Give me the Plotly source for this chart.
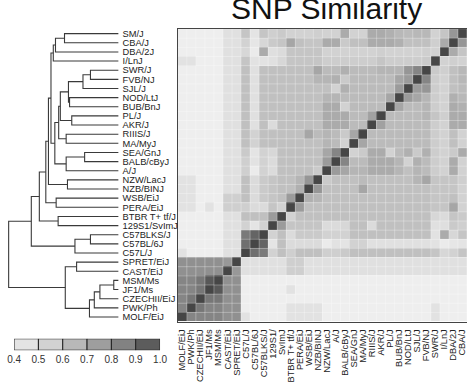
import plotly.graph_objects as go

STRAINS = ["SM/J", "CBA/J", "DBA/2J", "I/LnJ", "SWR/J", "FVB/NJ", "SJL/J", "NOD/LtJ",
           "BUB/BnJ", "PL/J", "AKR/J", "RIIIS/J", "MA/MyJ", "SEA/GnJ", "BALB/cByJ", "A/J",
           "NZW/LacJ", "NZB/BINJ", "WSB/EiJ", "PERA/EiJ", "BTBR T+ tf/J", "129S1/SvImJ",
           "C57BLKS/J", "C57BL/6J", "C57L/J", "SPRET/EiJ", "CAST/EiJ", "MSM/Ms", "JF1/Ms",
           "CZECHII/EiJ", "PWK/Ph", "MOLF/EiJ"]

# column labels as printed under the heat map (the 129S1 label is split over two slots)
XLABELS = ["MOLF/EiJ", "PWK/Ph", "CZECHII/EiJ", "JF1/Ms", "MSM/Ms", "CAST/EiJ", "SPRET/EiJ",
           "C57L/J", "C57BL/6J", "C57BLKS/J", "129S1/", "SvImJ", "BTBR T+ tf/J", "PERA/EiJ",
           "WSB/EiJ", "NZB/BINJ", "NZW/LacJ", "A/J", "BALB/cByJ", "SEA/GnJ", "MA/MyJ",
           "RIIIS/J", "AKR/J", "PL/J", "BUB/BnJ", "NOD/LtJ", "SJL/J", "FVB/NJ", "SWR/J",
           "I/LnJ", "DBA/2J", "CBA/J", "SM/J"]

# similarity of each strain to the strains listed before it (lower triangle)
SIM_LOWER = [
    [],
    [0.78],
    [0.60, 0.70],
    [0.55, 0.56, 0.55],
    [0.65, 0.62, 0.56, 0.58],
    [0.65, 0.62, 0.55, 0.57, 0.84],
    [0.64, 0.62, 0.55, 0.57, 0.78, 0.76],
    [0.65, 0.68, 0.55, 0.57, 0.66, 0.72, 0.76],
    [0.68, 0.70, 0.55, 0.57, 0.66, 0.64, 0.64, 0.72],
    [0.70, 0.70, 0.56, 0.60, 0.66, 0.64, 0.64, 0.64, 0.64],
    [0.70, 0.70, 0.55, 0.57, 0.64, 0.64, 0.64, 0.64, 0.64, 0.74],
    [0.55, 0.62, 0.55, 0.57, 0.64, 0.64, 0.64, 0.64, 0.64, 0.64, 0.64],
    [0.55, 0.62, 0.55, 0.57, 0.64, 0.64, 0.64, 0.64, 0.64, 0.64, 0.64, 0.72],
    [0.70, 0.58, 0.55, 0.57, 0.68, 0.58, 0.68, 0.64, 0.55, 0.70, 0.70, 0.58, 0.55],
    [0.55, 0.70, 0.55, 0.57, 0.64, 0.68, 0.55, 0.66, 0.70, 0.70, 0.70, 0.64, 0.64, 0.84],
    [0.55, 0.70, 0.55, 0.57, 0.64, 0.66, 0.62, 0.66, 0.70, 0.70, 0.70, 0.66, 0.66, 0.72, 0.76],
    [0.56, 0.60, 0.60, 0.60, 0.72, 0.66, 0.62, 0.62, 0.62, 0.62, 0.62, 0.64, 0.62, 0.62, 0.62, 0.58],
    [0.55, 0.60, 0.60, 0.60, 0.62, 0.62, 0.62, 0.62, 0.62, 0.62, 0.62, 0.72, 0.62, 0.62, 0.62, 0.62,
     0.78],
    [0.55, 0.62, 0.60, 0.60, 0.62, 0.62, 0.62, 0.62, 0.62, 0.62, 0.62, 0.62, 0.62, 0.62, 0.62, 0.62,
     0.66, 0.68],
    [0.55, 0.72, 0.60, 0.60, 0.62, 0.62, 0.62, 0.62, 0.62, 0.62, 0.62, 0.62, 0.62, 0.62, 0.62, 0.62,
     0.62, 0.62, 0.76],
    [0.58, 0.60, 0.50, 0.52, 0.62, 0.62, 0.62, 0.62, 0.62, 0.62, 0.62, 0.62, 0.62, 0.62, 0.62, 0.62,
     0.62, 0.62, 0.62, 0.55],
    [0.56, 0.58, 0.48, 0.47, 0.62, 0.62, 0.62, 0.62, 0.62, 0.62, 0.50, 0.62, 0.62, 0.52, 0.50, 0.50,
     0.60, 0.60, 0.60, 0.60, 0.76],
    [0.60, 0.52, 0.70, 0.46, 0.62, 0.62, 0.62, 0.62, 0.62, 0.62, 0.62, 0.62, 0.62, 0.55, 0.55, 0.55,
     0.58, 0.58, 0.58, 0.50, 0.62, 0.55],
    [0.45, 0.44, 0.42, 0.46, 0.47, 0.47, 0.47, 0.47, 0.47, 0.47, 0.47, 0.55, 0.55, 0.45, 0.46, 0.42,
     0.50, 0.50, 0.50, 0.50, 0.62, 0.45, 0.93],
    [0.60, 0.55, 0.52, 0.60, 0.62, 0.62, 0.62, 0.62, 0.62, 0.62, 0.62, 0.62, 0.62, 0.58, 0.56, 0.56,
     0.62, 0.62, 0.62, 0.56, 0.62, 0.55, 0.87, 0.90],
    [0.47, 0.47, 0.47, 0.47, 0.47, 0.47, 0.47, 0.47, 0.47, 0.47, 0.47, 0.47, 0.47, 0.47, 0.47, 0.47,
     0.47, 0.47, 0.56, 0.56, 0.47, 0.47, 0.47, 0.47, 0.47],
    [0.47, 0.47, 0.47, 0.47, 0.47, 0.47, 0.47, 0.47, 0.47, 0.47, 0.47, 0.47, 0.47, 0.47, 0.47, 0.47,
     0.47, 0.47, 0.56, 0.56, 0.47, 0.47, 0.47, 0.47, 0.47, 0.77],
    [0.41, 0.41, 0.41, 0.41, 0.41, 0.41, 0.41, 0.41, 0.41, 0.41, 0.41, 0.41, 0.41, 0.41, 0.41, 0.41,
     0.41, 0.41, 0.41, 0.41, 0.41, 0.41, 0.41, 0.41, 0.41, 0.80, 0.80],
    [0.41, 0.41, 0.41, 0.41, 0.41, 0.41, 0.41, 0.41, 0.41, 0.41, 0.41, 0.41, 0.41, 0.41, 0.41, 0.41,
     0.41, 0.41, 0.41, 0.46, 0.41, 0.41, 0.41, 0.41, 0.41, 0.80, 0.80, 0.96],
    [0.41, 0.41, 0.41, 0.41, 0.41, 0.41, 0.41, 0.41, 0.41, 0.41, 0.41, 0.41, 0.41, 0.41, 0.41, 0.41,
     0.41, 0.41, 0.41, 0.41, 0.41, 0.41, 0.41, 0.41, 0.41, 0.80, 0.80, 0.88, 0.88],
    [0.41, 0.41, 0.41, 0.46, 0.41, 0.41, 0.41, 0.41, 0.41, 0.41, 0.41, 0.41, 0.41, 0.41, 0.41, 0.41,
     0.46, 0.46, 0.46, 0.46, 0.41, 0.41, 0.41, 0.41, 0.41, 0.80, 0.80, 0.84, 0.84, 0.88],
    [0.41, 0.41, 0.41, 0.46, 0.41, 0.41, 0.41, 0.41, 0.41, 0.41, 0.41, 0.41, 0.41, 0.41, 0.41, 0.41,
     0.46, 0.46, 0.46, 0.46, 0.41, 0.41, 0.41, 0.41, 0.46, 0.80, 0.80, 0.84, 0.84, 0.84, 0.84],
]

# hierarchical clustering: (left, right, merge height); ints refer to earlier merges
MERGES = [
    ("SM/J", "CBA/J", 0.492), (0, "DBA/2J", 0.574), (1, "I/LnJ", 0.594),
    ("SWR/J", "FVB/NJ", 0.256), (3, "SJL/J", 0.324), ("NOD/LtJ", "BUB/BnJ", 0.446),
    (4, 5, 0.456), ("PL/J", "AKR/J", 0.426), (6, 7, 0.530), ("RIIIS/J", "MA/MyJ", 0.477),
    (8, 9, 0.545), ("SEA/GnJ", "BALB/cByJ", 0.309), (11, "A/J", 0.477), (10, 12, 0.580),
    (2, 13, 0.615), ("NZW/LacJ", "NZB/BINJ", 0.465), (14, 15, 0.638),
    ("WSB/EiJ", "PERA/EiJ", 0.568), (16, 17, 0.662), ("BTBR T+ tf/J", "129S1/SvImJ", 0.550),
    (18, 19, 0.721), ("C57BLKS/J", "C57BL/6J", 0.256), (21, "C57L/J", 0.397),
    (20, 22, 0.794), ("SPRET/EiJ", "CAST/EiJ", 0.382), ("MSM/Ms", "JF1/Ms", 0.044),
    (25, "CZECHII/EiJ", 0.170), (26, "PWK/Ph", 0.221), (27, "MOLF/EiJ", 0.265),
    (24, 28, 0.485), (23, 29, 1.000),
]

LEGEND_BREAKS = [0.4, 0.5, 0.6, 0.7, 0.8, 0.9, 1.0]
LEGEND_LABELS = ["0.4", "0.5", "0.6", "0.7", "0.8", "0.9", "1.0"]

ZMIN, ZMAX = 0.4, 1.0
CS = [[0.0, "rgb(240,240,240)"], [0.0833, "rgb(228,228,228)"], [0.25, "rgb(210,210,210)"],
      [0.4167, "rgb(184,184,184)"], [0.5833, "rgb(158,158,158)"], [0.75, "rgb(130,130,130)"],
      [0.9167, "rgb(92,92,92)"], [1.0, "rgb(70,70,70)"]]

n = len(STRAINS)
S = [[1.0] * n for _ in range(n)]
for a, row in enumerate(SIM_LOWER):
    for b, v in enumerate(row):
        S[a][b] = v
        S[b][a] = v
# rows top->bottom in STRAINS order, columns in reverse order
Z = [[S[r][n - 1 - c] for c in range(n)] for r in range(n)]

# dendrogram segments
idx = {s: i for i, s in enumerate(STRAINS)}
nodes = []
def node_pos(k):
    if isinstance(k, str):
        return 0.0, float(idx[k])
    return nodes[k]
dx, dy = [], []
for a, b, h in MERGES:
    ha, ya = node_pos(a)
    hb, yb = node_pos(b)
    dx += [ha, h, h, hb, None]
    dy += [ya, ya, yb, yb, None]
    nodes.append((h, (ya + yb) / 2.0))

W, H = 474, 383
FONT = "Liberation Sans, Arial, Helvetica, sans-serif"
LABEL_SIZE = 9.3
y_dom = [(H - 328.4) / H, (H - 29.7) / H]

fig = go.Figure()
fig.add_trace(go.Heatmap(z=Z, x=list(range(n)), y=list(range(n)), colorscale=CS,
                         zmin=ZMIN, zmax=ZMAX, showscale=False,
                         hoverinfo="skip", xaxis="x", yaxis="y"))
fig.add_trace(go.Scatter(x=dx, y=dy, mode="lines", line=dict(color="#3a3a3a", width=1.1),
                         hoverinfo="skip", showlegend=False, xaxis="x2", yaxis="y2"))
centers = [(LEGEND_BREAKS[i] + LEGEND_BREAKS[i + 1]) / 2 for i in range(len(LEGEND_BREAKS) - 1)]
fig.add_trace(go.Bar(x=centers, y=[1] * len(centers), width=0.1,
                     marker=dict(color=centers, colorscale=CS, cmin=ZMIN, cmax=ZMAX,
                                 line=dict(color="#222222", width=1)),
                     cliponaxis=False, hoverinfo="skip", showlegend=False,
                     xaxis="x3", yaxis="y3"))

# faint cell separators on top of the heat map
shapes = []
for i in range(1, n):
    shapes.append(dict(type="line", xref="x", yref="y", x0=i - 0.5, x1=i - 0.5,
                       y0=-0.5, y1=n - 0.5, line=dict(color="rgba(255,255,255,0.3)", width=1),
                       layer="above"))
    shapes.append(dict(type="line", xref="x", yref="y", y0=i - 0.5, y1=i - 0.5,
                       x0=-0.5, x1=n - 0.5, line=dict(color="rgba(255,255,255,0.3)", width=1),
                       layer="above"))

fig.update_layout(
    width=W, height=H, margin=dict(l=0, r=0, t=0, b=0),
    paper_bgcolor="white", plot_bgcolor="white", showlegend=False,
    font=dict(family=FONT, color="#222222", size=10),
    shapes=shapes,
    xaxis=dict(domain=[176 / W, 1.0], range=[-0.5, n - 0.5], tickmode="array",
               tickvals=list(range(len(XLABELS))), ticktext=XLABELS, tickangle=-90,
               tickfont=dict(size=LABEL_SIZE, color="#222222"), ticks="", showgrid=False,
               zeroline=False, showline=True, mirror=True, linecolor="#444444",
               linewidth=1, anchor="y", ticklabelstandoff=3),
    yaxis=dict(domain=y_dom, range=[n - 0.5, -0.5], showticklabels=False, ticks="",
               showgrid=False, zeroline=False, showline=True, linecolor="#444444",
               linewidth=1, anchor="x"),
    xaxis2=dict(domain=[0, 115 / W], range=[1.015, 0], visible=False, anchor="y2"),
    yaxis2=dict(domain=y_dom, range=[n - 0.5, -0.5], side="right", tickmode="array",
                tickvals=list(range(n)), ticktext=STRAINS,
                tickfont=dict(size=LABEL_SIZE, color="#222222"),
                ticks="", showgrid=False, zeroline=False, showline=False, anchor="x2",
                ticklabelstandoff=3),
    xaxis3=dict(domain=[7.3 / W, 157.7 / W], range=[0.4, 1.0], tickmode="array",
                tickvals=LEGEND_BREAKS, ticktext=LEGEND_LABELS,
                tickfont=dict(size=10, color="#333333"), ticks="", showgrid=False,
                zeroline=False, showline=False, anchor="y3", ticklabelstandoff=2),
    yaxis3=dict(domain=[(H - 357.7) / H, (H - 346) / H], range=[0, 1], visible=False,
                anchor="x3"),
    annotations=[dict(text="SNP Similarity", x=329 / W, y=(H - 27.5) / H, xref="paper",
                      yref="paper", xanchor="center", yanchor="bottom", showarrow=False,
                      font=dict(family=FONT, size=30, color="#111111"))],
)

fig.write_html("out.html")
